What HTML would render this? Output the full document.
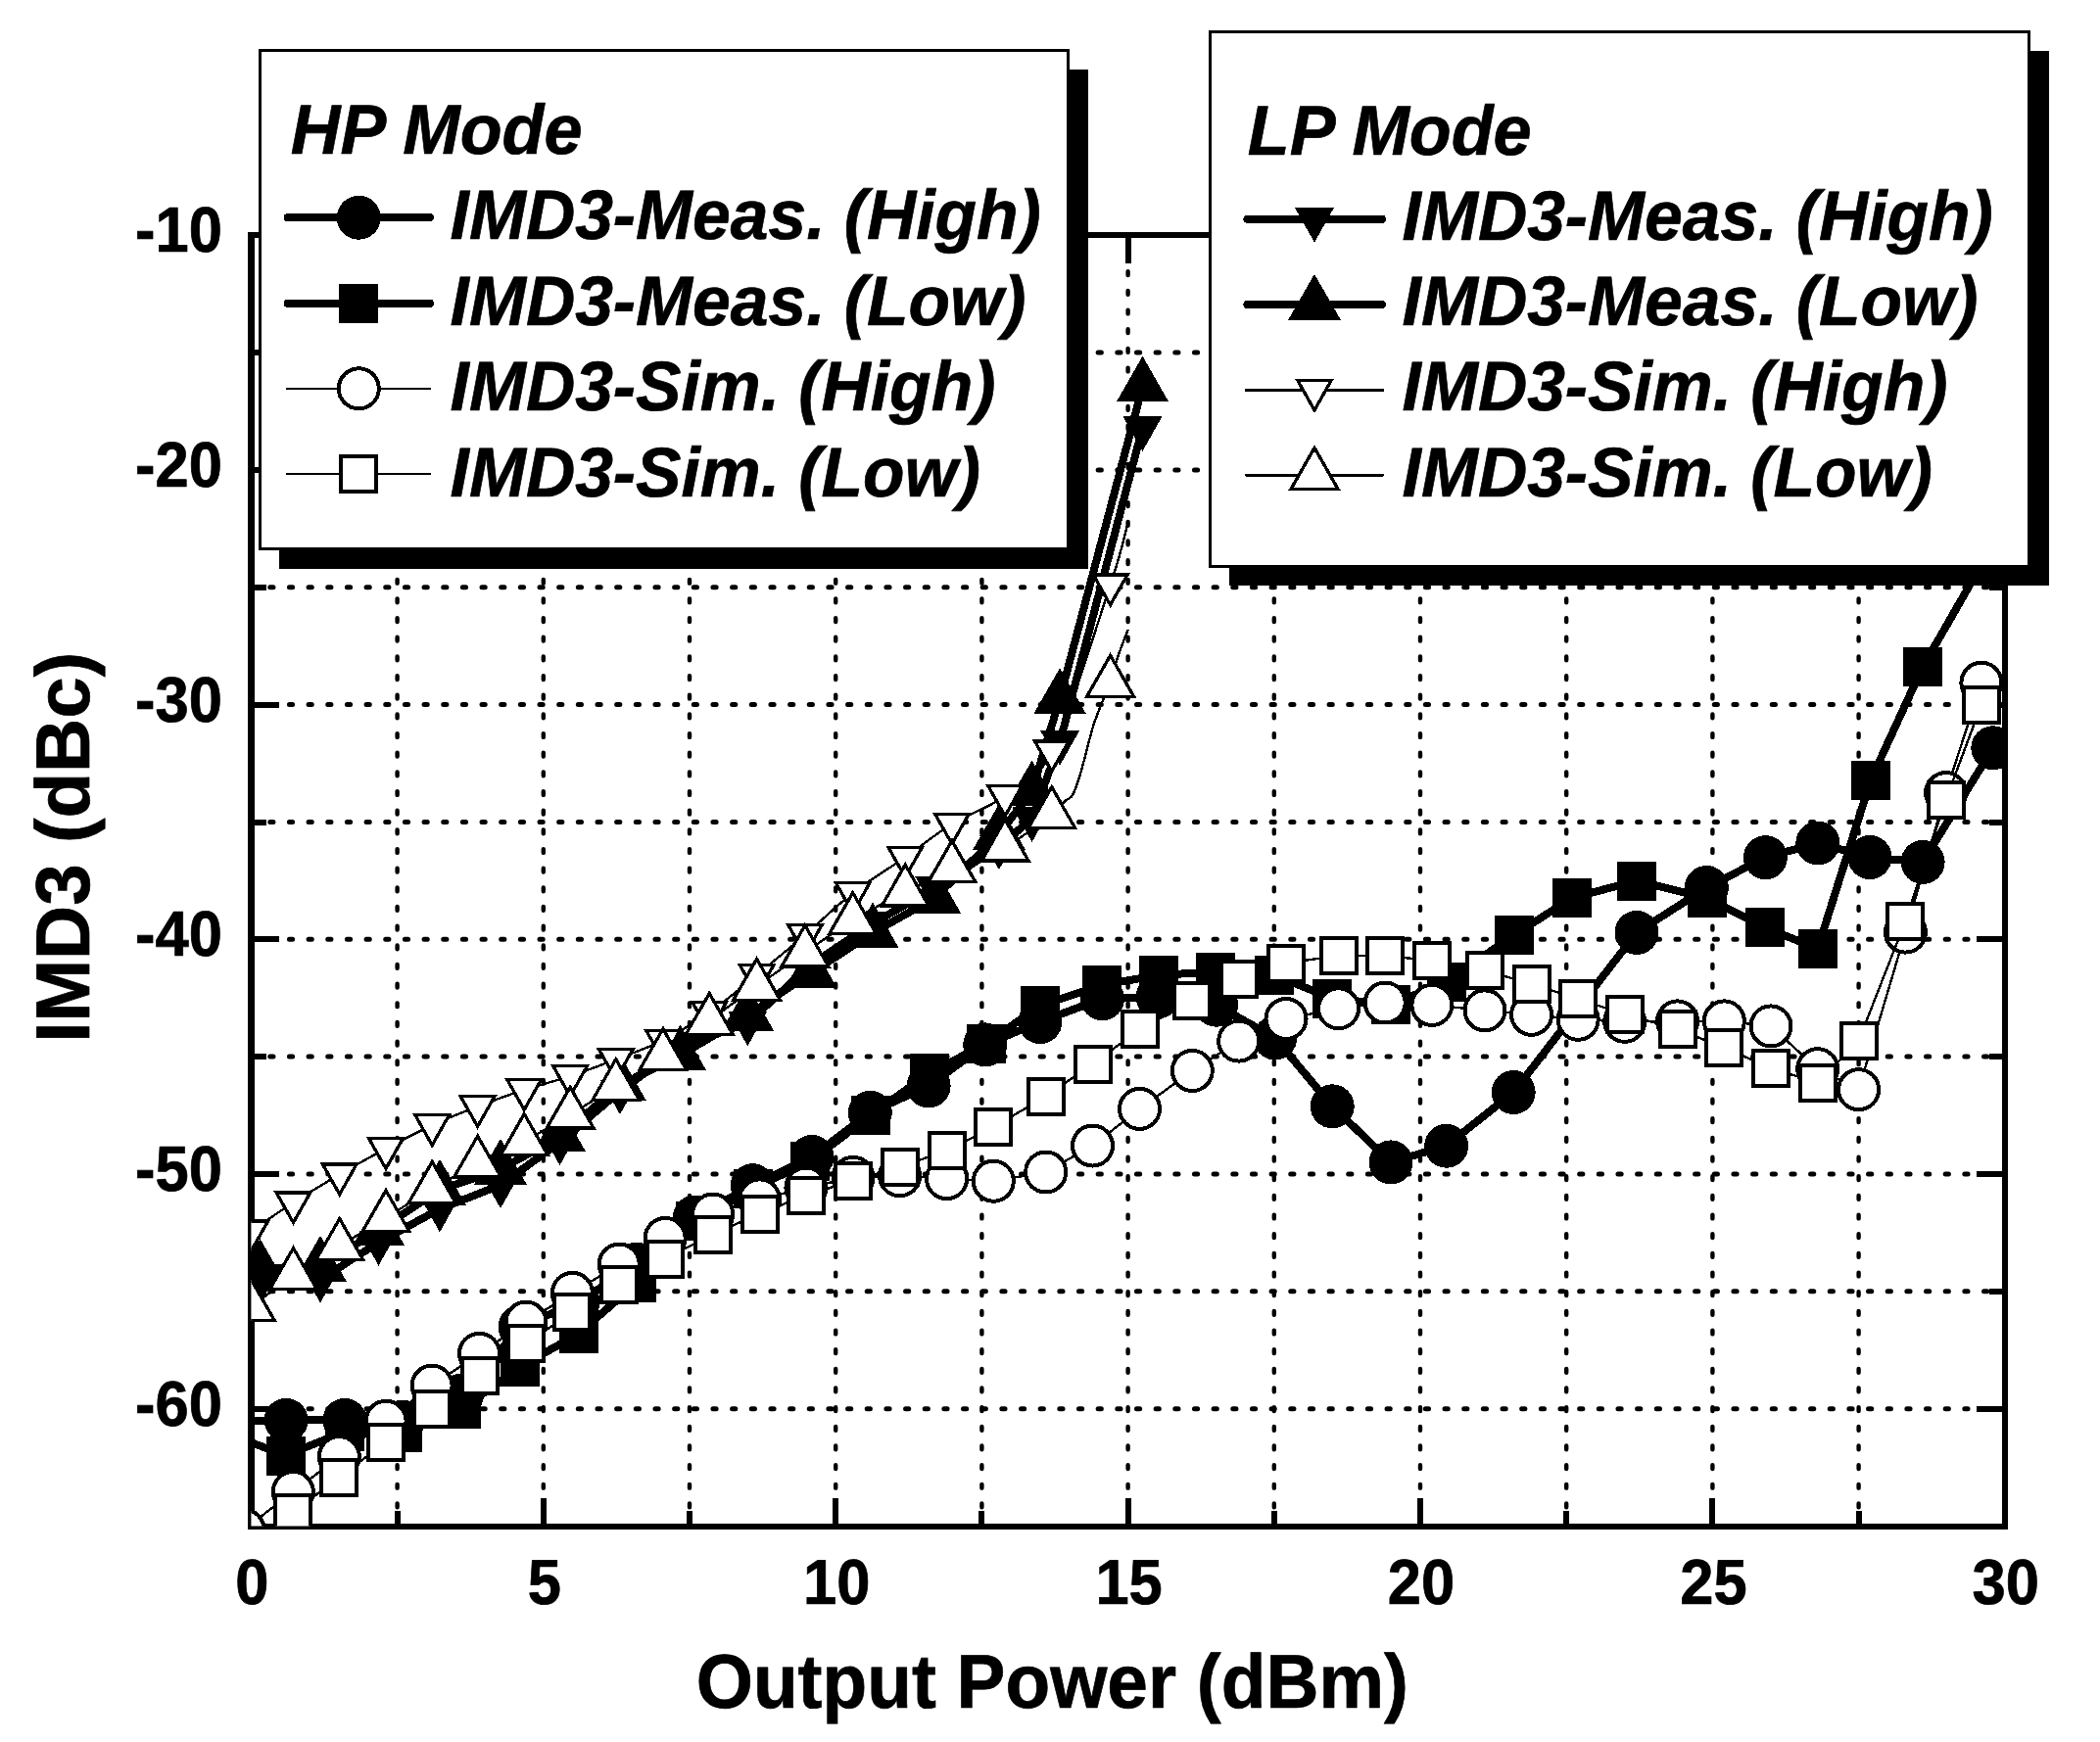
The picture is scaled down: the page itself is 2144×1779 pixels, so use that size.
<!DOCTYPE html>
<html lang="en">
<head>
<meta charset="utf-8">
<title>IMD3 versus Output Power</title>
<style>
html,body{margin:0;padding:0;background:#fff;}
body{width:2144px;height:1779px;overflow:hidden;}
svg{display:block;}
</style>
</head>
<body>
<svg width="2144" height="1779" viewBox="0 0 2144 1779" shape-rendering="crispEdges">
<defs><clipPath id="plotclip"><rect x="256.4" y="240.2" width="1790.4" height="1318.3"/></clipPath></defs>
<rect x="0" y="0" width="2144" height="1779" fill="#fff"/>
<g fill="none" stroke="#000" stroke-linecap="round" shape-rendering="geometricPrecision"><path d="M405.6 240.2 V1558.5" stroke-width="4.4" stroke-dasharray="3.8 15.86" stroke-dashoffset="2.24"/><path d="M554.8 240.2 V1558.5" stroke-width="4.4" stroke-dasharray="3.8 15.86" stroke-dashoffset="2.24"/><path d="M704 240.2 V1558.5" stroke-width="4.4" stroke-dasharray="3.8 15.86" stroke-dashoffset="2.24"/><path d="M853.2 240.2 V1558.5" stroke-width="4.4" stroke-dasharray="3.8 15.86" stroke-dashoffset="2.24"/><path d="M1002.4 240.2 V1558.5" stroke-width="4.4" stroke-dasharray="3.8 15.86" stroke-dashoffset="2.24"/><path d="M1151.6 240.2 V1558.5" stroke-width="4.4" stroke-dasharray="3.8 15.86" stroke-dashoffset="2.24"/><path d="M1300.8 240.2 V1558.5" stroke-width="4.4" stroke-dasharray="3.8 15.86" stroke-dashoffset="2.24"/><path d="M1450 240.2 V1558.5" stroke-width="4.4" stroke-dasharray="3.8 15.86" stroke-dashoffset="2.24"/><path d="M1599.2 240.2 V1558.5" stroke-width="4.4" stroke-dasharray="3.8 15.86" stroke-dashoffset="2.24"/><path d="M1748.4 240.2 V1558.5" stroke-width="4.4" stroke-dasharray="3.8 15.86" stroke-dashoffset="2.24"/><path d="M1897.6 240.2 V1558.5" stroke-width="4.4" stroke-dasharray="3.8 15.86" stroke-dashoffset="2.24"/><path d="M256.4 360 H2046.8" stroke-width="5" stroke-dasharray="3.2 16.46" stroke-dashoffset="0.3"/><path d="M256.4 479.9 H2046.8" stroke-width="5" stroke-dasharray="3.2 16.46" stroke-dashoffset="0.3"/><path d="M256.4 599.8 H2046.8" stroke-width="5" stroke-dasharray="3.2 16.46" stroke-dashoffset="0.3"/><path d="M256.4 719.6 H2046.8" stroke-width="5" stroke-dasharray="3.2 16.46" stroke-dashoffset="0.3"/><path d="M256.4 839.5 H2046.8" stroke-width="5" stroke-dasharray="3.2 16.46" stroke-dashoffset="0.3"/><path d="M256.4 959.3 H2046.8" stroke-width="5" stroke-dasharray="3.2 16.46" stroke-dashoffset="0.3"/><path d="M256.4 1079.1 H2046.8" stroke-width="5" stroke-dasharray="3.2 16.46" stroke-dashoffset="0.3"/><path d="M256.4 1199 H2046.8" stroke-width="5" stroke-dasharray="3.2 16.46" stroke-dashoffset="0.3"/><path d="M256.4 1318.8 H2046.8" stroke-width="5" stroke-dasharray="3.2 16.46" stroke-dashoffset="0.3"/><path d="M256.4 1438.7 H2046.8" stroke-width="5" stroke-dasharray="3.2 16.46" stroke-dashoffset="0.3"/></g>
<g stroke="#000" stroke-width="6" fill="none" stroke-linecap="butt"><path d="M256.4 1558.5 v-29"/><path d="M256.4 240.2 v29"/><path d="M405.6 1558.5 v-16"/><path d="M405.6 240.2 v16"/><path d="M554.8 1558.5 v-29"/><path d="M554.8 240.2 v29"/><path d="M704 1558.5 v-16"/><path d="M704 240.2 v16"/><path d="M853.2 1558.5 v-29"/><path d="M853.2 240.2 v29"/><path d="M1002.4 1558.5 v-16"/><path d="M1002.4 240.2 v16"/><path d="M1151.6 1558.5 v-29"/><path d="M1151.6 240.2 v29"/><path d="M1300.8 1558.5 v-16"/><path d="M1300.8 240.2 v16"/><path d="M1450 1558.5 v-29"/><path d="M1450 240.2 v29"/><path d="M1599.2 1558.5 v-16"/><path d="M1599.2 240.2 v16"/><path d="M1748.4 1558.5 v-29"/><path d="M1748.4 240.2 v29"/><path d="M1897.6 1558.5 v-16"/><path d="M1897.6 240.2 v16"/><path d="M2046.8 1558.5 v-29"/><path d="M2046.8 240.2 v29"/><path d="M256.4 240.2 h29"/><path d="M2046.8 240.2 h-29"/><path d="M256.4 360 h16"/><path d="M2046.8 360 h-16"/><path d="M256.4 479.9 h29"/><path d="M2046.8 479.9 h-29"/><path d="M256.4 599.8 h16"/><path d="M2046.8 599.8 h-16"/><path d="M256.4 719.6 h29"/><path d="M2046.8 719.6 h-29"/><path d="M256.4 839.5 h16"/><path d="M2046.8 839.5 h-16"/><path d="M256.4 959.3 h29"/><path d="M2046.8 959.3 h-29"/><path d="M256.4 1079.1 h16"/><path d="M2046.8 1079.1 h-16"/><path d="M256.4 1199 h29"/><path d="M2046.8 1199 h-29"/><path d="M256.4 1318.8 h16"/><path d="M2046.8 1318.8 h-16"/><path d="M256.4 1438.7 h29"/><path d="M2046.8 1438.7 h-29"/><path d="M256.4 1558.5 h16"/><path d="M2046.8 1558.5 h-16"/></g>
<rect x="256.4" y="240.2" width="1790.4" height="1318.6" fill="none" stroke="#000" stroke-width="6"/>
<path d="M256.4 237.2 V1561.8" stroke="#000" stroke-width="6.8" fill="none"/>
<g clip-path="url(#plotclip)">
<path d="M232 1451 L292.1 1450.4 L351.9 1450.4 L411 1452 L471.4 1425 L531 1355 L590 1330 L650 1291 L709.5 1243 L768.3 1210.7 L829 1181.4 L888.3 1136.2 L948.1 1109 L1005.7 1066.9 L1061.9 1043.6 L1125.5 1019.8 L1182.1 1017.9 L1241.7 1026.2 L1301.7 1060 L1360.2 1129.8 L1420 1186.9 L1476.7 1170.2 L1545.2 1115.5 L1671 952.4 L1742.4 906.5 L1802.4 875.7 L1855.8 861 L1909 875.5 L1963.1 880.4 L2034.8 763.8" fill="none" stroke="#000" stroke-width="8" stroke-linejoin="round"/>
<g fill="#000"><circle cx="292.1" cy="1450.4" r="22.5"/><circle cx="351.9" cy="1450.4" r="22.5"/><circle cx="411" cy="1452" r="22.5"/><circle cx="471.4" cy="1425" r="22.5"/><circle cx="531" cy="1355" r="22.5"/><circle cx="590" cy="1330" r="22.5"/><circle cx="650" cy="1291" r="22.5"/><circle cx="709.5" cy="1243" r="22.5"/><circle cx="768.3" cy="1210.7" r="22.5"/><circle cx="829" cy="1181.4" r="22.5"/><circle cx="888.3" cy="1136.2" r="22.5"/><circle cx="948.1" cy="1109" r="22.5"/><circle cx="1005.7" cy="1066.9" r="22.5"/><circle cx="1061.9" cy="1043.6" r="22.5"/><circle cx="1125.5" cy="1019.8" r="22.5"/><circle cx="1182.1" cy="1017.9" r="22.5"/><circle cx="1241.7" cy="1026.2" r="22.5"/><circle cx="1301.7" cy="1060" r="22.5"/><circle cx="1360.2" cy="1129.8" r="22.5"/><circle cx="1420" cy="1186.9" r="22.5"/><circle cx="1476.7" cy="1170.2" r="22.5"/><circle cx="1545.2" cy="1115.5" r="22.5"/><circle cx="1671" cy="952.4" r="22.5"/><circle cx="1742.4" cy="906.5" r="22.5"/><circle cx="1802.4" cy="875.7" r="22.5"/><circle cx="1855.8" cy="861" r="22.5"/><circle cx="1909" cy="875.5" r="22.5"/><circle cx="1963.1" cy="880.4" r="22.5"/><circle cx="2034.8" cy="763.8" r="22.5"/></g>
<path d="M232 1464 L291.8 1486.5 L351.5 1462 L411 1463 L471.3 1438.8 L531.1 1395.8 L590.8 1361.9 L650.1 1310.1 L709.5 1247.4 L768.5 1214 L827.4 1185.7 L889.3 1138.7 L948.8 1095.8 L1006.5 1066.1 L1062.1 1026.8 L1125 1006 L1183 995.8 L1241.1 992.5 L1301 995.8 L1360.1 1019.6 L1420 1026.1 L1476.8 1002.5 L1545.8 954.9 L1604.9 917 L1671.1 899.5 L1742.5 917.1 L1802 947.3 L1855.8 968.9 L1910 796.5 L1963.1 680.9 L2028 568" fill="none" stroke="#000" stroke-width="8" stroke-linejoin="round"/>
<g fill="#000"><rect x="271.8" y="1466.5" width="40" height="40"/><rect x="331.5" y="1442" width="40" height="40"/><rect x="391" y="1443" width="40" height="40"/><rect x="451.3" y="1418.8" width="40" height="40"/><rect x="511.1" y="1375.8" width="40" height="40"/><rect x="570.8" y="1341.9" width="40" height="40"/><rect x="630.1" y="1290.1" width="40" height="40"/><rect x="689.5" y="1227.4" width="40" height="40"/><rect x="748.5" y="1194" width="40" height="40"/><rect x="807.4" y="1165.7" width="40" height="40"/><rect x="869.3" y="1118.7" width="40" height="40"/><rect x="928.8" y="1075.8" width="40" height="40"/><rect x="986.5" y="1046.1" width="40" height="40"/><rect x="1042.1" y="1006.8" width="40" height="40"/><rect x="1105" y="986" width="40" height="40"/><rect x="1163" y="975.8" width="40" height="40"/><rect x="1221.1" y="972.5" width="40" height="40"/><rect x="1281" y="975.8" width="40" height="40"/><rect x="1340.1" y="999.6" width="40" height="40"/><rect x="1400" y="1006.1" width="40" height="40"/><rect x="1456.8" y="982.5" width="40" height="40"/><rect x="1525.8" y="934.9" width="40" height="40"/><rect x="1584.9" y="897" width="40" height="40"/><rect x="1651.1" y="879.5" width="40" height="40"/><rect x="1722.5" y="897.1" width="40" height="40"/><rect x="1782" y="927.3" width="40" height="40"/><rect x="1835.8" y="948.9" width="40" height="40"/><rect x="1890" y="776.5" width="40" height="40"/><rect x="1943.1" y="660.9" width="40" height="40"/></g>
<path d="M249 1562 L299.3 1523.5 L346.3 1487.6 L394.1 1451.3 L441.1 1415.1 L489.5 1382.3 L537 1350.1 L584.4 1320.4 L632.2 1291.1 L679.2 1264.4 L727.7 1240 L775.5 1224.9 L822.9 1213 L871 1202.3 L918.6 1200.8 L966.6 1203.7 L1014.3 1206.2 L1067.7 1197 L1115.5 1170 L1163.5 1132.4 L1217.3 1093.5 L1264.7 1063.1 L1313 1040.5 L1366.6 1029.8 L1414.2 1024 L1461.9 1026.4 L1516 1031.8 L1563.6 1036.3 L1611.2 1041.3 L1658.7 1043.3 L1712.6 1042.9 L1760.3 1042.9 L1808 1047.9 L1855.7 1091.7 L1897.6 1112.7 L1945.4 952.1 L1986.6 809.6 L2022.9 697.2" fill="none" stroke="#000" stroke-width="2.4" stroke-linejoin="round"/>
<g fill="#fff" stroke="#000" stroke-width="4" stroke-linejoin="miter"><circle cx="249" cy="1562" r="20.5"/><circle cx="299.3" cy="1523.5" r="20.5"/><circle cx="346.3" cy="1487.6" r="20.5"/><circle cx="394.1" cy="1451.3" r="20.5"/><circle cx="441.1" cy="1415.1" r="20.5"/><circle cx="489.5" cy="1382.3" r="20.5"/><circle cx="537" cy="1350.1" r="20.5"/><circle cx="584.4" cy="1320.4" r="20.5"/><circle cx="632.2" cy="1291.1" r="20.5"/><circle cx="679.2" cy="1264.4" r="20.5"/><circle cx="727.7" cy="1240" r="20.5"/><circle cx="775.5" cy="1224.9" r="20.5"/><circle cx="822.9" cy="1213" r="20.5"/><circle cx="871" cy="1202.3" r="20.5"/><circle cx="918.6" cy="1200.8" r="20.5"/><circle cx="966.6" cy="1203.7" r="20.5"/><circle cx="1014.3" cy="1206.2" r="20.5"/><circle cx="1067.7" cy="1197" r="20.5"/><circle cx="1115.5" cy="1170" r="20.5"/><circle cx="1163.5" cy="1132.4" r="20.5"/><circle cx="1217.3" cy="1093.5" r="20.5"/><circle cx="1264.7" cy="1063.1" r="20.5"/><circle cx="1313" cy="1040.5" r="20.5"/><circle cx="1366.6" cy="1029.8" r="20.5"/><circle cx="1414.2" cy="1024" r="20.5"/><circle cx="1461.9" cy="1026.4" r="20.5"/><circle cx="1516" cy="1031.8" r="20.5"/><circle cx="1563.6" cy="1036.3" r="20.5"/><circle cx="1611.2" cy="1041.3" r="20.5"/><circle cx="1658.7" cy="1043.3" r="20.5"/><circle cx="1712.6" cy="1042.9" r="20.5"/><circle cx="1760.3" cy="1042.9" r="20.5"/><circle cx="1808" cy="1047.9" r="20.5"/><circle cx="1855.7" cy="1091.7" r="20.5"/><circle cx="1897.6" cy="1112.7" r="20.5"/><circle cx="1945.4" cy="952.1" r="20.5"/><circle cx="1986.6" cy="809.6" r="20.5"/><circle cx="2022.9" cy="697.2" r="20.5"/></g>
<path d="M249 1598 L299.3 1544.6 L346.3 1508.5 L394.1 1472.9 L441.1 1438.5 L489.5 1404.9 L537 1372 L584.4 1340.1 L632.2 1311.8 L679.2 1285.6 L727.7 1260.5 L775.5 1239.5 L822.9 1220.6 L871 1205.7 L918.6 1192 L966.6 1174.8 L1014.3 1151.2 L1067.7 1119.6 L1115.5 1086.7 L1163.5 1051.3 L1217.3 1022.3 L1264.7 999.8 L1313 983.6 L1366.6 976 L1414.2 976 L1461.9 981 L1516 991 L1563.6 1005 L1611.2 1020 L1658.7 1036 L1712.6 1050.8 L1760.3 1070 L1808 1090.7 L1855.7 1106 L1897.6 1062.9 L1945.4 940.6 L1986.6 816.6 L2022.9 719.8" fill="none" stroke="#000" stroke-width="2.4" stroke-linejoin="round"/>
<g fill="#fff" stroke="#000" stroke-width="4" stroke-linejoin="miter"><rect x="231" y="1580" width="36" height="36"/><rect x="281.3" y="1526.6" width="36" height="36"/><rect x="328.3" y="1490.5" width="36" height="36"/><rect x="376.1" y="1454.9" width="36" height="36"/><rect x="423.1" y="1420.5" width="36" height="36"/><rect x="471.5" y="1386.9" width="36" height="36"/><rect x="519" y="1354" width="36" height="36"/><rect x="566.4" y="1322.1" width="36" height="36"/><rect x="614.2" y="1293.8" width="36" height="36"/><rect x="661.2" y="1267.6" width="36" height="36"/><rect x="709.7" y="1242.5" width="36" height="36"/><rect x="757.5" y="1221.5" width="36" height="36"/><rect x="804.9" y="1202.6" width="36" height="36"/><rect x="853" y="1187.7" width="36" height="36"/><rect x="900.6" y="1174" width="36" height="36"/><rect x="948.6" y="1156.8" width="36" height="36"/><rect x="996.3" y="1133.2" width="36" height="36"/><rect x="1049.7" y="1101.6" width="36" height="36"/><rect x="1097.5" y="1068.7" width="36" height="36"/><rect x="1145.5" y="1033.3" width="36" height="36"/><rect x="1199.3" y="1004.3" width="36" height="36"/><rect x="1246.7" y="981.8" width="36" height="36"/><rect x="1295" y="965.6" width="36" height="36"/><rect x="1348.6" y="958" width="36" height="36"/><rect x="1396.2" y="958" width="36" height="36"/><rect x="1443.9" y="963" width="36" height="36"/><rect x="1498" y="973" width="36" height="36"/><rect x="1545.6" y="987" width="36" height="36"/><rect x="1593.2" y="1002" width="36" height="36"/><rect x="1640.7" y="1018" width="36" height="36"/><rect x="1694.6" y="1032.8" width="36" height="36"/><rect x="1742.3" y="1052" width="36" height="36"/><rect x="1790" y="1072.7" width="36" height="36"/><rect x="1837.7" y="1088" width="36" height="36"/><rect x="1879.6" y="1044.9" width="36" height="36"/><rect x="1927.4" y="922.6" width="36" height="36"/><rect x="1968.6" y="798.6" width="36" height="36"/><rect x="2004.9" y="701.8" width="36" height="36"/></g>
<path d="M265.5 1307.8 L327 1306.8 L386.5 1268.8 L449 1234.6 L511 1210.3 L571.5 1166.3 L633 1114.4 L694.5 1069.5 L763.3 1044.5 L828 985 L891 943 L954.3 907 L1020 864.4 L1053.6 836.2 L1082.1 757.9 L1166.5 437" fill="none" stroke="#000" stroke-width="8" stroke-linejoin="round"/>
<g fill="#000"><polygon points="245.4,1295.9 285.6,1295.9 265.5,1331.6"/><polygon points="306.9,1294.9 347.1,1294.9 327,1330.6"/><polygon points="366.4,1256.9 406.6,1256.9 386.5,1292.6"/><polygon points="428.9,1222.7 469.1,1222.7 449,1258.4"/><polygon points="490.9,1198.4 531.1,1198.4 511,1234.1"/><polygon points="551.4,1154.4 591.6,1154.4 571.5,1190.1"/><polygon points="612.9,1102.5 653.1,1102.5 633,1138.2"/><polygon points="674.4,1057.6 714.6,1057.6 694.5,1093.3"/><polygon points="743.2,1032.6 783.4,1032.6 763.3,1068.3"/><polygon points="807.9,973.1 848.1,973.1 828,1008.8"/><polygon points="870.9,931.1 911.1,931.1 891,966.8"/><polygon points="934.2,895.1 974.4,895.1 954.3,930.8"/><polygon points="999.9,852.5 1040.1,852.5 1020,888.2"/><polygon points="1033.5,824.3 1073.7,824.3 1053.6,860"/><polygon points="1062,746 1102.2,746 1082.1,781.7"/><polygon points="1146.4,425.1 1186.6,425.1 1166.5,460.8"/></g>
<path d="M265.5 1296 L327 1293 L386.5 1256.5 L449 1215 L511 1194 L571.5 1160.7 L633 1108.3 L694.5 1077.7 L763.3 1036.9 L828 993.6 L891 952.7 L954.3 916.9 L1020 852 L1053.6 807.6 L1082.1 713.3 L1166.5 394.8" fill="none" stroke="#000" stroke-width="8" stroke-linejoin="round"/>
<g fill="#000"><polygon points="265.5,1264.8 292.2,1311.6 238.8,1311.6"/><polygon points="327,1261.8 353.8,1308.6 300.2,1308.6"/><polygon points="386.5,1225.3 413.2,1272.1 359.8,1272.1"/><polygon points="449,1183.8 475.8,1230.6 422.2,1230.6"/><polygon points="511,1162.8 537.8,1209.6 484.2,1209.6"/><polygon points="571.5,1129.5 598.2,1176.3 544.8,1176.3"/><polygon points="633,1077.1 659.8,1123.9 606.2,1123.9"/><polygon points="694.5,1046.5 721.2,1093.3 667.8,1093.3"/><polygon points="763.3,1005.7 790,1052.5 736.5,1052.5"/><polygon points="828,962.4 854.8,1009.2 801.2,1009.2"/><polygon points="891,921.5 917.8,968.3 864.2,968.3"/><polygon points="954.3,885.7 981,932.5 927.5,932.5"/><polygon points="1020,820.8 1046.8,867.6 993.2,867.6"/><polygon points="1053.6,776.4 1080.3,823.2 1026.8,823.2"/><polygon points="1082.1,682.1 1108.8,728.9 1055.3,728.9"/><polygon points="1166.5,363.6 1193.2,410.4 1139.8,410.4"/></g>
<path d="M256.4 1257.1 C263.6 1252.3 284.4 1237.8 299.5 1228.2 C314.6 1218.6 330.9 1208.5 346.7 1199.3 C362.4 1190.1 378.2 1181.5 394 1173.1 C409.8 1164.7 425.6 1156.3 441.2 1149.1 C456.8 1141.9 471.9 1136 487.6 1130 C503.3 1124 519.5 1118.1 535.2 1112.9 C551 1107.8 566.5 1104.3 582.1 1099.1 C597.7 1093.9 613 1088 628.8 1081.9 C644.6 1075.8 661 1070.4 676.9 1062.4 C692.8 1054.4 708.2 1044.9 724.2 1033.8 C740.2 1022.7 756.3 1008.9 772.6 995.7 C788.9 982.5 805.5 968.8 821.9 954.8 C838.2 940.8 853.7 925.1 870.7 911.9 C887.8 898.7 907.3 887.2 924.2 875.5 C941.1 863.8 954.9 851.9 971.9 841.5 C988.9 831.1 1009.1 825.3 1026.1 812.9 C1043.1 800.5 1055.9 803.1 1073.8 767.2 C1091.7 731.3 1120.6 636.3 1133.6 597.4 C1146.6 558.5 1148.6 544.6 1151.6 534" fill="none" stroke="#000" stroke-width="2.4" stroke-linejoin="round"/>
<g fill="#fff" stroke="#000" stroke-width="3.3" stroke-linejoin="miter"><polygon points="239.1,1246.9 273.7,1246.9 256.4,1277.5"/><polygon points="282.2,1218 316.8,1218 299.5,1248.6"/><polygon points="329.4,1189 364,1189 346.7,1219.7"/><polygon points="376.7,1162.8 411.3,1162.8 394,1193.5"/><polygon points="423.9,1138.8 458.5,1138.8 441.2,1169.5"/><polygon points="470.3,1119.8 504.9,1119.8 487.6,1150.4"/><polygon points="517.9,1102.7 552.5,1102.7 535.2,1133.3"/><polygon points="564.8,1088.8 599.4,1088.8 582.1,1119.5"/><polygon points="611.5,1071.7 646.1,1071.7 628.8,1102.3"/><polygon points="659.6,1052.2 694.2,1052.2 676.9,1082.8"/><polygon points="706.9,1023.5 741.5,1023.5 724.2,1054.2"/><polygon points="755.3,985.5 789.9,985.5 772.6,1016.1"/><polygon points="804.6,944.5 839.2,944.5 821.9,975.2"/><polygon points="853.4,901.6 888,901.6 870.7,932.3"/><polygon points="906.9,865.2 941.5,865.2 924.2,895.9"/><polygon points="954.6,831.2 989.2,831.2 971.9,861.9"/><polygon points="1008.8,802.6 1043.4,802.6 1026.1,833.3"/><polygon points="1056.5,757 1091.1,757 1073.8,787.6"/><polygon points="1116.3,587.1 1150.9,587.1 1133.6,617.8"/></g>
<path d="M256.4 1334.7 C263.6 1329.3 284.4 1312.9 299.5 1302.5 C314.6 1292.1 330.9 1282.3 346.7 1272.5 C362.4 1262.7 378.2 1253.3 394 1243.6 C409.8 1233.9 425.6 1223.7 441.2 1214.4 C456.8 1205.2 471.9 1196.2 487.6 1188.1 C503.3 1179.9 519.5 1173.8 535.2 1165.5 C551 1157.2 566.5 1147.4 582.1 1138.1 C597.7 1128.8 613 1119.5 628.8 1109.6 C644.6 1099.7 661 1089.8 676.9 1078.6 C692.8 1067.4 708.2 1054.3 724.2 1042.4 C740.2 1030.5 756.3 1018.8 772.6 1007.2 C788.9 995.6 805.5 984.2 821.9 972.9 C838.2 961.6 853.7 949.9 870.7 939.6 C887.8 929.3 907.3 919.9 924.2 911 C941.1 902.1 954.9 894.2 971.9 886.5 C988.9 878.8 1009.1 874.1 1026.1 865 C1043.1 855.9 1063.6 839.5 1073.8 831.7 C1084 823.9 1083.8 821.3 1087.4 818 C1091 814.7 1092.6 816.4 1095.2 811.8 C1097.8 807.2 1100.6 798.1 1103 790.3 C1105.4 782.5 1107.5 773.5 1109.8 765 C1112.1 756.5 1113.9 748.1 1116.7 739.6 C1119.5 731.1 1123.6 721.3 1126.4 714.2 C1129.2 707.1 1131.1 704.4 1133.6 697.2 C1136 690.1 1138.1 680.3 1141.1 671.3 C1144.1 662.3 1149.8 647.7 1151.6 643" fill="none" stroke="#000" stroke-width="2.4" stroke-linejoin="round"/>
<g fill="#fff" stroke="#000" stroke-width="3.3" stroke-linejoin="miter"><polygon points="256.4,1306.8 280.3,1348.6 232.5,1348.6"/><polygon points="299.5,1274.6 323.4,1316.4 275.6,1316.4"/><polygon points="346.7,1244.6 370.6,1286.4 322.8,1286.4"/><polygon points="394,1215.7 417.9,1257.5 370.1,1257.5"/><polygon points="441.2,1186.5 465.1,1228.3 417.3,1228.3"/><polygon points="487.6,1160.2 511.5,1202 463.7,1202"/><polygon points="535.2,1137.6 559.1,1179.4 511.3,1179.4"/><polygon points="582.1,1110.2 606,1152 558.2,1152"/><polygon points="628.8,1081.7 652.7,1123.5 604.9,1123.5"/><polygon points="676.9,1050.7 700.8,1092.5 653,1092.5"/><polygon points="724.2,1014.5 748.1,1056.3 700.3,1056.3"/><polygon points="772.6,979.3 796.5,1021.2 748.7,1021.2"/><polygon points="821.9,945 845.8,986.9 798,986.9"/><polygon points="870.7,911.7 894.6,953.6 846.8,953.6"/><polygon points="924.2,883.1 948.1,925 900.3,925"/><polygon points="971.9,858.6 995.8,900.5 948,900.5"/><polygon points="1026.1,837.1 1050,879 1002.2,879"/><polygon points="1073.8,803.8 1097.7,845.7 1049.9,845.7"/><polygon points="1133.6,669.3 1157.5,711.2 1109.7,711.2"/></g>
</g>
<path d="M1090.6 70.9 H1110.9 V580.9 H284.8 V560.6 H1090.6 Z" fill="#000"/><rect x="265.7" y="51.6" width="824.9" height="509" fill="#fff" stroke="#000" stroke-width="3"/>
<path d="M2071.4 52 H2092 V597.9 H1255.1 V578.4 H2071.4 Z" fill="#000"/><rect x="1235.5" y="32.6" width="835.9" height="545.8" fill="#fff" stroke="#000" stroke-width="3"/>
<path d="M293.5 222.2 H439" stroke="#000" stroke-width="8" stroke-linecap="round" fill="none"/><g fill="#000"><circle cx="366.3" cy="222.2" r="22.5"/></g>
<path d="M293.5 309.8 H439" stroke="#000" stroke-width="8" stroke-linecap="round" fill="none"/><g fill="#000"><rect x="346.3" y="289.8" width="40" height="40"/></g>
<path d="M293 396.8 H439" stroke="#000" stroke-width="2.4" stroke-linecap="round" fill="none"/><g fill="#fff" stroke="#000" stroke-width="4"><circle cx="366.3" cy="396.8" r="20.5"/></g>
<path d="M293 483.8 H439" stroke="#000" stroke-width="2.4" stroke-linecap="round" fill="none"/><g fill="#fff" stroke="#000" stroke-width="4"><rect x="348.3" y="465.8" width="36" height="36"/></g>
<path d="M1273.4 223.8 H1411" stroke="#000" stroke-width="8" stroke-linecap="round" fill="none"/><g fill="#000"><polygon points="1321.9,211.9 1362.1,211.9 1342,247.6"/></g>
<path d="M1273.4 311.1 H1411" stroke="#000" stroke-width="8" stroke-linecap="round" fill="none"/><g fill="#000"><polygon points="1342,279.9 1368.8,326.7 1315.2,326.7"/></g>
<path d="M1272 398.5 H1412" stroke="#000" stroke-width="2.4" stroke-linecap="round" fill="none"/><g fill="#fff" stroke="#000" stroke-width="3.3"><polygon points="1324.7,388.2 1359.3,388.2 1342,418.9"/></g>
<path d="M1272 485.3 H1412" stroke="#000" stroke-width="2.4" stroke-linecap="round" fill="none"/><g fill="#fff" stroke="#000" stroke-width="3.3"><polygon points="1342,457.4 1365.9,499.2 1318.1,499.2"/></g>
<g font-family="'Liberation Sans', sans-serif" font-weight="bold" fill="#000" stroke="#000" stroke-width="0.7" stroke-linejoin="round" text-rendering="geometricPrecision">
<g font-style="italic" font-size="69.6">
<text transform="translate(296.8 157.4) scale(1 1.022)" font-size="70.2">HP Mode</text>
<text transform="translate(459.6 244.4) scale(1 1.028)">IMD3-Meas. (High)</text>
<text transform="translate(459.6 331.8) scale(1 1.028)">IMD3-Meas. (Low)</text>
<text transform="translate(459.6 419.2) scale(1 1.028)">IMD3-Sim. (High)</text>
<text transform="translate(459.6 506.8) scale(1 1.028)">IMD3-Sim. (Low)</text>
<text transform="translate(1273.8 157.7) scale(1 1.022)" font-size="70.2">LP Mode</text>
<text transform="translate(1431.6 244.9) scale(1 1.028)">IMD3-Meas. (High)</text>
<text transform="translate(1431.6 331.8) scale(1 1.028)">IMD3-Meas. (Low)</text>
<text transform="translate(1431.6 419.4) scale(1 1.028)">IMD3-Sim. (High)</text>
<text transform="translate(1431.6 506.8) scale(1 1.028)">IMD3-Sim. (Low)</text>
</g>
<g font-size="61.5">
<text transform="translate(257.4 1638.3) scale(1 1.058)" text-anchor="middle">0</text>
<text transform="translate(555.8 1638.3) scale(1 1.058)" text-anchor="middle">5</text>
<text transform="translate(854.2 1638.3) scale(1 1.058)" text-anchor="middle">10</text>
<text transform="translate(1152.6 1638.3) scale(1 1.058)" text-anchor="middle">15</text>
<text transform="translate(1451 1638.3) scale(1 1.058)" text-anchor="middle">20</text>
<text transform="translate(1749.4 1638.3) scale(1 1.058)" text-anchor="middle">25</text>
<text transform="translate(2047.8 1638.3) scale(1 1.058)" text-anchor="middle">30</text>
<text transform="translate(227 257.1) scale(1 1.062)" text-anchor="end">-10</text>
<text transform="translate(227 496.8) scale(1 1.062)" text-anchor="end">-20</text>
<text transform="translate(227 736.5) scale(1 1.062)" text-anchor="end">-30</text>
<text transform="translate(227 976.2) scale(1 1.062)" text-anchor="end">-40</text>
<text transform="translate(227 1215.9) scale(1 1.062)" text-anchor="end">-50</text>
<text transform="translate(227 1455.6) scale(1 1.062)" text-anchor="end">-60</text>
</g>
<g font-size="74.8">
<text transform="translate(1074.3 1744) scale(1 1.042)" text-anchor="middle">Output Power (dBm)</text>
<text transform="translate(91 865.3) rotate(-90) scale(1 1.02)" text-anchor="middle" font-size="76.4">IMD3 (dBc)</text>
</g>
</g>
</svg>
</body>
</html>
